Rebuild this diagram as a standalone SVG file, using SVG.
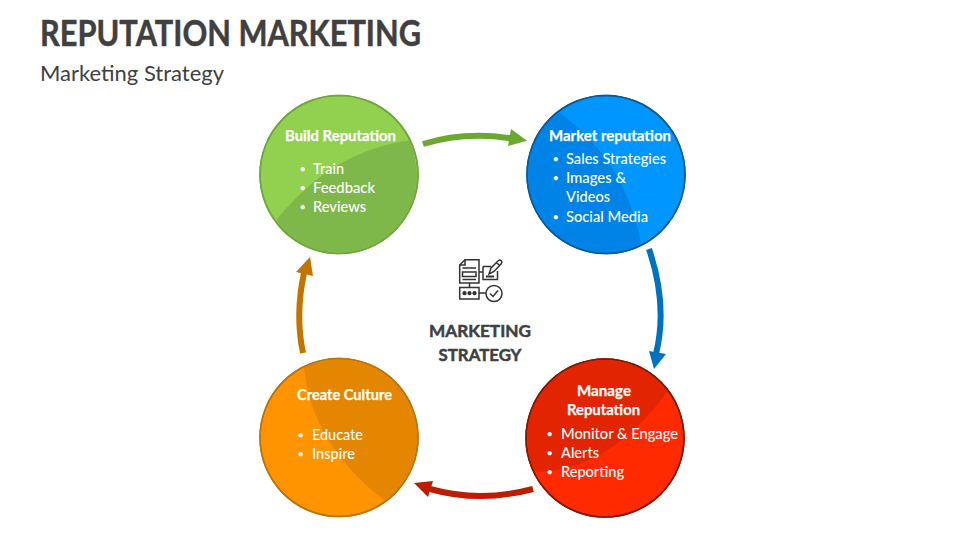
<svg xmlns="http://www.w3.org/2000/svg" width="960" height="540" viewBox="0 0 960 540">
<style>
text{font-family:Lato,"Open Sans",sans-serif}
.t{fill:#404040;stroke:#404040;stroke-width:.5px;font-weight:700}
.h{fill:#fff;stroke:#fff;stroke-width:.25px;font-weight:700;font-size:15px;text-anchor:start}
.i{fill:#fff;font-size:15.5px;font-weight:500}
.b{fill:#fff;font-size:11px}
.c{fill:none;stroke-width:6}
.ic{fill:none;stroke:#333;stroke-width:1.500}
</style>
<defs>
<clipPath id="cg"><circle cx="339" cy="174.500" r="78"/></clipPath>
<clipPath id="cb"><circle cx="606" cy="174.500" r="78"/></clipPath>
<clipPath id="cr"><circle cx="605" cy="438" r="78"/></clipPath>
<clipPath id="co"><circle cx="339" cy="437.500" r="78"/></clipPath>
</defs>
<rect width="960" height="540" fill="#fff"/>
<text class="t" x="40" y="46" font-size="37" textLength="381" lengthAdjust="spacingAndGlyphs">REPUTATION MARKETING</text>
<text x="40" y="81" font-size="21" fill="#404040" textLength="184" lengthAdjust="spacingAndGlyphs">Marketing Strategy</text>
<g id="connectors">
<path class="c" stroke="#6AA82E" d="M423 144Q465 131 512 138.500"/><path fill="#6AA82E" d="M527 140.700L511 129L508 146Z"/>
<path class="c" stroke="#0070C0" d="M649 249Q668 305 656 354"/><path fill="#0070C0" d="M654 369L649 351L666 354Z"/>
<path class="c" stroke="#BC1C00" d="M533 489Q480 503 430 489"/><path fill="#BC1C00" d="M414 483L433 481L428 497Z"/>
<path class="c" stroke="#C27400" d="M303 353Q295 315 304 273"/><path fill="#C27400" d="M310 257L296 272L313 276Z"/>
</g>
<g id="build-reputation">
<circle cx="339" cy="174.500" r="79" fill="#92D050" stroke="#6FA73A" stroke-width="1.500"/>
<path clip-path="url(#cg)" fill="#7FB84A" d="M278 218Q333 150 412 140L430 260L260 265Z"/>
<circle cx="339" cy="174.500" r="79" fill="none" stroke="#6FA73A" stroke-width="1.500"/>
<text class="h" x="285" y="141" textLength="111" lengthAdjust="spacingAndGlyphs">Build Reputation</text>
<text class="b" x="299.500" y="173">•</text><text class="i" x="313" y="174" textLength="31" lengthAdjust="spacingAndGlyphs">Train</text>
<text class="b" x="299.500" y="192">•</text><text class="i" x="313" y="193" textLength="62" lengthAdjust="spacingAndGlyphs">Feedback</text>
<text class="b" x="299.500" y="211">•</text><text class="i" x="313" y="212" textLength="53" lengthAdjust="spacingAndGlyphs">Reviews</text>
</g>
<g id="market-reputation">
<circle cx="606" cy="174.500" r="79" fill="#0096FF" stroke="#0B5A94" stroke-width="1.500"/>
<path clip-path="url(#cb)" fill="#0083E6" d="M560 113Q625 160 641 243L600 270L510 200L530 100Z"/>
<circle cx="606" cy="174.500" r="79" fill="none" stroke="#0B5A94" stroke-width="1.500"/>
<text class="h" x="549" y="140.500" textLength="122" lengthAdjust="spacingAndGlyphs">Market reputation</text>
<text class="b" x="552.500" y="163">•</text><text class="i" x="566" y="164" textLength="100" lengthAdjust="spacingAndGlyphs">Sales Strategies</text>
<text class="b" x="552.500" y="182">•</text><text class="i" x="566" y="183" textLength="60" lengthAdjust="spacingAndGlyphs">Images &amp;</text>
<text class="i" x="566" y="202" textLength="44" lengthAdjust="spacingAndGlyphs">Videos</text>
<text class="b" x="552.500" y="221">•</text><text class="i" x="566" y="222" textLength="82" lengthAdjust="spacingAndGlyphs">Social Media</text>
</g>
<g id="manage-reputation">
<circle cx="605" cy="438" r="79" fill="#FF2A00" stroke="#7F1A08" stroke-width="1.500"/>
<path clip-path="url(#cr)" fill="#E32400" d="M667 392Q610 470 537 472L500 440L560 340L680 370Z"/>
<circle cx="605" cy="438" r="79" fill="none" stroke="#7F1A08" stroke-width="1.500"/>
<text class="h" x="577" y="396" textLength="54" lengthAdjust="spacingAndGlyphs">Manage</text>
<text class="h" x="567" y="415" textLength="73" lengthAdjust="spacingAndGlyphs">Reputation</text>
<text class="b" x="546.500" y="438">•</text><text class="i" x="561" y="439" textLength="117" lengthAdjust="spacingAndGlyphs">Monitor &amp; Engage</text>
<text class="b" x="546.500" y="457">•</text><text class="i" x="561" y="458" textLength="38" lengthAdjust="spacingAndGlyphs">Alerts</text>
<text class="b" x="546.500" y="476">•</text><text class="i" x="561" y="477" textLength="63" lengthAdjust="spacingAndGlyphs">Reporting</text>
</g>
<g id="create-culture">
<circle cx="339" cy="437.500" r="79" fill="#FF9300" stroke="#B8740F" stroke-width="1.500"/>
<path clip-path="url(#co)" fill="#E58600" d="M304 368Q312 445 384 500L430 500L430 350L300 345Z"/>
<circle cx="339" cy="437.500" r="79" fill="none" stroke="#B8740F" stroke-width="1.500"/>
<text class="h" x="297" y="400" textLength="95" lengthAdjust="spacingAndGlyphs">Create Culture</text>
<text class="b" x="297.500" y="439">•</text><text class="i" x="312" y="440" textLength="51" lengthAdjust="spacingAndGlyphs">Educate</text>
<text class="b" x="297.500" y="458">•</text><text class="i" x="312" y="459" textLength="43" lengthAdjust="spacingAndGlyphs">Inspire</text>
</g>
<g id="marketing-strategy">
<g class="ic">
<path d="M465 259.700H479V283H459.700V265Z"/><path d="M465 259.700V265H459.700"/>
<path d="M462.500 268H476M462.500 272H476V276.500H462.500ZM462.500 279.500H476"/>
<path d="M479 272H483M469.500 283V287.500"/>
<rect x="459.700" y="287.500" width="19.300" height="11.500"/>
<circle cx="464.500" cy="293.200" r="1.400" fill="#333"/><circle cx="469.500" cy="293.200" r="1.400" fill="#333"/><circle cx="474.500" cy="293.200" r="1.400" fill="#333"/>
<path d="M479 293H486"/>
<circle cx="494" cy="293.500" r="8"/><path d="M490 293.500L493 296.500L498 290.500"/>
<path d="M483 266.500H491M497.500 271V279.500H483V266.500"/>
<path d="M489 274L491 268L498.500 260.500Q500 259.500 501.500 261Q502.500 262.500 501 264L494 271.500ZM496.500 262.500L500 266"/>
<path d="M486 276.500H494" stroke-width="2"/>
</g>
<text class="t" x="480" y="337" font-size="17.500" text-anchor="middle" textLength="102" lengthAdjust="spacingAndGlyphs">MARKETING</text>
<text class="t" x="480" y="361" font-size="17.500" text-anchor="middle" textLength="83" lengthAdjust="spacingAndGlyphs">STRATEGY</text>
</g>
</svg>
